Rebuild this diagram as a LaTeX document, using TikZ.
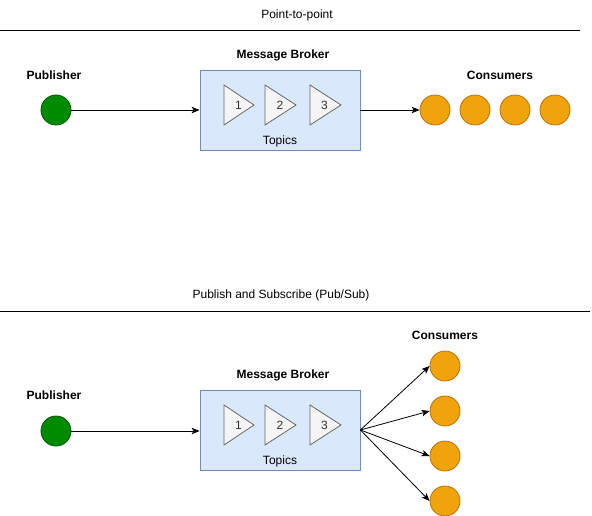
\documentclass[tikz,border=0pt]{standalone}
\usepackage{fontspec}
\setmainfont{Liberation Sans}
\usetikzlibrary{arrows.meta}
\definecolor{pubfill}{HTML}{008A00}
\definecolor{publine}{HTML}{005700}
\definecolor{confill}{HTML}{F0A30A}
\definecolor{conline}{HTML}{BD7000}
\definecolor{brkfill}{HTML}{DAE8FC}
\definecolor{brkline}{HTML}{6C8EBF}
\definecolor{trifill}{HTML}{F5F5F5}
\definecolor{triline}{HTML}{666666}
\definecolor{tritext}{HTML}{333333}
\tikzset{
  txt/.style={font=\fontsize{12}{14}\selectfont, inner sep=0pt},
  btxt/.style={font=\fontsize{12}{14}\selectfont\bfseries, inner sep=0pt},
  pub/.style={circle, draw=publine, fill=pubfill, minimum size=30pt, inner sep=0pt, line width=0.8pt},
  con/.style={circle, draw=conline, fill=confill, minimum size=30pt, inner sep=0pt, line width=0.8pt},
  broker/.style={draw=brkline, fill=brkfill, minimum width=160pt, minimum height=80pt, inner sep=0pt, line width=0.8pt},
  tri/.style={draw=triline, fill=trifill, line width=0.8pt},
  tnum/.style={font=\fontsize{12}{14}\selectfont, text=tritext, inner sep=0pt},
  rule/.style={line width=1pt},
  conn/.style={line width=0.8pt, -{Stealth[length=8pt,width=6.5pt,inset=2pt]}},
}
\begin{document}
\begin{tikzpicture}[x=1pt, y=-1pt]
\useasboundingbox (0,0) rectangle (592,516);
% ---------- Point-to-point ----------
\node[txt] (t1) at (297,15.5) {Point-to-point};
\coordinate (l1a) at (0,31);
\coordinate (l1b) at (580,31);
\draw[rule] (l1a) -- (l1b);
\node[btxt] (pl1) at (54,75) {Publisher};
\node[pub] (p1) at (56,110) {};
\node[btxt] (ml1) at (283,55) {Message Broker};
\node[broker] (b1) at (280,110) {};
\draw[tri] (224,85) -- (254,105) -- (224,125) -- cycle;
\draw[tri] (265,85) -- (296,105) -- (265,125) -- cycle;
\draw[tri] (310,85) -- (341,105) -- (310,125) -- cycle;
\node[tnum] (n11) at (238.5,105) {1};
\node[tnum] (n12) at (280,105) {2};
\node[tnum] (n13) at (324.5,105) {3};
\node[txt] (tp1) at (280,141) {Topics};
\node[btxt] (cl1) at (500,75) {Consumers};
\node[con] (c11) at (435,110) {};
\node[con] (c12) at (475,110) {};
\node[con] (c13) at (515,110) {};
\node[con] (c14) at (555,110) {};
\draw[conn] (p1) -- (b1);
\draw[conn] (b1) -- (c11);
% ---------- Pub/Sub ----------
\node[txt] (t2) at (281,295.5) {Publish and Subscribe (Pub/Sub)};
\coordinate (l2a) at (0,311);
\coordinate (l2b) at (590,311);
\draw[rule] (l2a) -- (l2b);
\node[btxt] (pl2) at (54,395) {Publisher};
\node[pub] (p2) at (56,431) {};
\node[btxt] (ml2) at (283,375) {Message Broker};
\node[broker] (b2) at (280,430) {};
\draw[tri] (224,405) -- (254,425) -- (224,445) -- cycle;
\draw[tri] (265,405) -- (296,425) -- (265,445) -- cycle;
\draw[tri] (310,405) -- (341,425) -- (310,445) -- cycle;
\node[tnum] (n21) at (238.5,425) {1};
\node[tnum] (n22) at (280,425) {2};
\node[tnum] (n23) at (324.5,425) {3};
\node[txt] (tp2) at (280,461) {Topics};
\node[btxt] (cl2) at (445,335) {Consumers};
\node[con] (c21) at (445,366) {};
\node[con] (c22) at (445,411) {};
\node[con] (c23) at (445,456) {};
\node[con] (c24) at (445,501) {};
\draw[conn] (p2) -- (p2 -| b2.west);
\foreach \c in {c21,c22,c23,c24}
  \draw[conn] (b2.east) -- (\c.west);
\end{tikzpicture}
\end{document}
